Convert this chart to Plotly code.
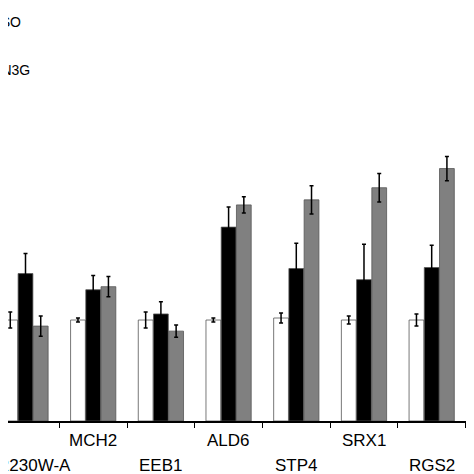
import plotly.graph_objects as go

genes = ["YIR230W-A", "MCH2", "EEB1", "ALD6", "STP4", "SRX1", "RGS2"]
dmso = [1.0, 1.0, 1.0, 1.0, 1.02, 1.0, 1.0]
dmso_err = [0.08, 0.02, 0.08, 0.02, 0.05, 0.04, 0.06]
cen = [1.46, 1.30, 1.06, 1.92, 1.51, 1.40, 1.52]
cen_err = [0.2, 0.14, 0.12, 0.2, 0.25, 0.35, 0.22]
cen3g = [0.94, 1.33, 0.89, 2.14, 2.19, 2.31, 2.50]
cen3g_err = [0.1, 0.1, 0.06, 0.08, 0.14, 0.14, 0.12]

W, H = 466, 466
w = 0.225
fig = go.Figure()
for vals, errs, col, off in [(dmso, dmso_err, "white", -w), (cen, cen_err, "black", 0), (cen3g, cen3g_err, "#808080", w)]:
    fig.add_trace(go.Bar(
        x=[i + off for i in range(len(genes))], y=vals, width=w * 0.97,
        marker=dict(color=col, line=dict(color="#555555", width=0.8)),
        error_y=dict(type="data", array=errs, color="black", thickness=1.5, width=2),
        showlegend=False, cliponaxis=False))

fig.update_layout(
    width=W, height=H, margin=dict(l=0, r=0, t=0, b=53),
    plot_bgcolor="white", paper_bgcolor="white",
    font=dict(family="Liberation Sans, Arial", size=17, color="black"),
    xaxis=dict(range=[-0.2585, 6.625], showticklabels=False,
               ticks="", showline=True, linecolor="black", linewidth=1.5, showgrid=False, zeroline=False,
               minor=dict(tick0=0.5, dtick=1, ticks="outside", ticklen=5, tickcolor="black")),
    yaxis=dict(range=[0, 4.09], visible=False, showgrid=False),
)
for i, g in enumerate(genes):
    fig.add_annotation(text=g, x=i, y=0, xref="x", yref="paper", yanchor="middle",
                       yshift=-(19 if i % 2 else 44), showarrow=False, font=dict(size=17))
for t, xp, yp in [("DMSO", 15, 14), ("CEN", 2, 39), ("CEN3G", 24, 62)]:
    fig.add_annotation(text=t, x=xp / W, y=1 - yp / 413, xref="paper", yref="paper",
                       xanchor="right", yanchor="middle", showarrow=False, font=dict(size=14))
fig.write_html("out.html")
